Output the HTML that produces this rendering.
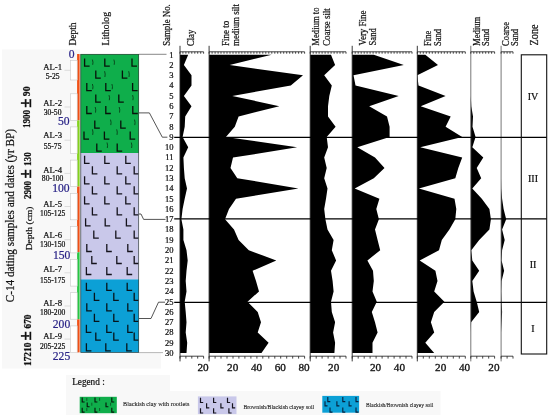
<!DOCTYPE html>
<html lang="en"><head><meta charset="utf-8"><title>Grain size log</title>
<style>html,body{margin:0;padding:0;background:#fff}svg{display:block}text{font-family:"Liberation Serif","Times New Roman",serif;fill:#111;stroke:#111;stroke-width:0.22px}</style>
</head><body>
<svg width="550" height="417" viewBox="0 0 550 417">
<rect width="550" height="417" fill="#fff"/>
<path d="M2 49.6H80V353H161V368.5H2Z" fill="#f8f8f8"/>
<path d="M66 375H170V391H440.5V415H66Z" fill="#f8f8f8"/>
<rect x="80.5" y="54" width="58.5" height="99" fill="#0fae4b"/>
<rect x="80.5" y="153" width="58.5" height="126.4" fill="#c9c8ea"/>
<rect x="80.5" y="279.4" width="58.5" height="73.2" fill="#0ca0d6"/>
<rect x="80.8" y="54.3" width="57.9" height="298.2" fill="none" stroke="#39443f" stroke-width="0.7"/>
<rect x="77.1" y="54" width="2.5" height="66.3" fill="#f05016"/>
<rect x="77.1" y="120.3" width="2.5" height="66.2" fill="#84d21e"/>
<rect x="77.1" y="186.5" width="2.5" height="65.7" fill="#f05016"/>
<rect x="77.1" y="252.2" width="2.5" height="67.1" fill="#26c744"/>
<rect x="77.1" y="319.3" width="2.5" height="33.1" fill="#f05016"/>
<path d="M84.6 58.6v7.6h5.0M104.8 58.6v7.6h5.0M132.0 58.6v7.6h5.0M95.8 70.6v7.6h5.0M122.4 70.6v7.6h5.0M86.8 83.1v7.6h5.0M105.8 83.1v7.6h5.0M132.6 83.1v7.6h5.0M95.8 94.6v7.6h5.0M118.8 94.6v7.6h5.0M86.8 105.9v7.6h5.0M105.8 105.9v7.6h5.0M132.8 105.9v7.6h5.0M94.8 120.6v7.6h5.0M120.8 120.6v7.6h5.0M84.0 131.6v7.6h5.0M104.4 131.6v7.6h5.0M130.2 131.6v7.6h5.0M96.8 143.6v7.6h5.0M117.2 143.6v7.6h5.0" fill="none" stroke="#07130a" stroke-width="1.3"/>
<path d="M92.4 59.6q1 2.6 0.3 5.2M113.9 59.6q1 2.6 0.3 5.2M104.6 71.2q1 2.9 0.3 5.8M128.7 71.2q1 2.9 0.3 5.8M92.4 84.0q1 2.6 0.3 5.3M111.9 84.0q1 2.6 0.3 5.3M109.0 95.1q1 2.6 0.3 5.1M132.6 95.1q1 2.6 0.3 5.1M95.2 107.0q1 2.8 0.3 5.6M119.2 107.0q1 2.8 0.3 5.6M110.5 119.6q1 2.8 0.3 5.5M134.5 119.6q1 2.8 0.3 5.5M92.4 129.3q1 2.8 0.3 5.6M116.7 129.3q1 2.8 0.3 5.6M107.0 142.5q1 2.8 0.3 5.5M131.3 142.5q1 2.8 0.3 5.5" fill="none" stroke="#083f19" stroke-width="0.9"/>
<path d="M84.6 155.7v7.6h5.0M104.8 155.7v7.6h5.0M125.8 155.7v7.6h5.0M92.4 166.2v7.6h5.0M117.2 166.2v7.6h5.0M134.2 166.2v7.6h4.1M84.6 176.2v7.6h5.0M104.8 176.2v7.6h5.0M125.8 176.2v7.6h5.0M92.4 186.2v7.6h5.0M117.2 186.2v7.6h5.0M134.2 186.2v7.6h4.1M84.6 196.2v7.6h5.0M104.8 196.2v7.6h5.0M125.8 196.2v7.6h5.0M92.4 207.2v7.6h5.0M117.2 207.2v7.6h5.0M134.2 207.2v7.6h4.1M85.6 218.2v7.6h5.0M105.2 218.2v7.6h5.0M126.4 218.2v7.6h5.0M93.8 230.5v7.6h5.0M115.8 230.5v7.6h5.0M134.2 230.5v7.6h4.1M86.8 243.9v7.6h5.0M106.8 243.9v7.6h5.0M127.8 243.9v7.6h5.0M91.8 255.9v7.6h5.0M116.8 255.9v7.6h5.0M134.2 255.9v7.6h4.1M86.4 266.9v7.6h5.0M106.8 266.9v7.6h5.0M127.2 266.9v7.6h5.0" fill="none" stroke="#15131c" stroke-width="1.3"/>
<path d="M86.4 282.7v7.6h5.0M106.8 282.7v7.6h5.0M127.2 282.7v7.6h5.0M94.4 292.7v7.6h5.0M113.8 292.7v7.6h5.0M134.2 292.7v7.6h4.1M86.8 303.3v7.6h5.0M106.8 303.3v7.6h5.0M127.8 303.3v7.6h5.0M94.4 313.7v7.6h5.0M113.8 313.7v7.6h5.0M134.2 313.7v7.6h4.1M86.4 324.7v7.6h5.0M106.8 324.7v7.6h5.0M127.8 324.7v7.6h5.0M95.8 332.5v7.6h5.0M113.8 332.5v7.6h5.0M134.2 332.5v7.6h4.1M86.4 343.3v7.6h5.0M105.8 343.3v7.6h5.0M126.8 343.3v7.6h5.0" fill="none" stroke="#06141c" stroke-width="1.3"/>
<rect x="70.6" y="60.6" width="6.6" height="19.4" fill="#fff" stroke="#c9c9c9" stroke-width="0.6"/>
<path d="M64.5 70.3H70.6" stroke="#c9c9c9" stroke-width="0.6"/>
<rect x="70.6" y="93.8" width="6.6" height="26.5" fill="#fff" stroke="#c9c9c9" stroke-width="0.6"/>
<path d="M64.5 107.0H70.6" stroke="#c9c9c9" stroke-width="0.6"/>
<rect x="70.6" y="126.9" width="6.6" height="26.5" fill="#fff" stroke="#c9c9c9" stroke-width="0.6"/>
<path d="M64.5 140.2H70.6" stroke="#c9c9c9" stroke-width="0.6"/>
<rect x="70.6" y="160.1" width="6.6" height="26.5" fill="#fff" stroke="#c9c9c9" stroke-width="0.6"/>
<path d="M64.5 173.4H70.6" stroke="#c9c9c9" stroke-width="0.6"/>
<rect x="70.6" y="193.3" width="6.6" height="26.5" fill="#fff" stroke="#c9c9c9" stroke-width="0.6"/>
<path d="M64.5 206.5H70.6" stroke="#c9c9c9" stroke-width="0.6"/>
<rect x="70.6" y="226.4" width="6.6" height="26.5" fill="#fff" stroke="#c9c9c9" stroke-width="0.6"/>
<path d="M64.5 239.7H70.6" stroke="#c9c9c9" stroke-width="0.6"/>
<rect x="70.6" y="259.6" width="6.6" height="26.5" fill="#fff" stroke="#c9c9c9" stroke-width="0.6"/>
<path d="M64.5 272.8H70.6" stroke="#c9c9c9" stroke-width="0.6"/>
<rect x="70.6" y="292.7" width="6.6" height="26.5" fill="#fff" stroke="#c9c9c9" stroke-width="0.6"/>
<path d="M64.5 306.0H70.6" stroke="#c9c9c9" stroke-width="0.6"/>
<rect x="70.6" y="325.9" width="6.6" height="26.5" fill="#fff" stroke="#c9c9c9" stroke-width="0.6"/>
<path d="M64.5 339.1H70.6" stroke="#c9c9c9" stroke-width="0.6"/>
<text x="52.6" y="70.2" font-size="8.7" text-anchor="middle">AL-1</text>
<text x="52.6" y="79.4" font-size="7.6" text-anchor="middle">5-25</text>
<text x="52.6" y="105.7" font-size="8.7" text-anchor="middle">AL-2</text>
<text x="52.6" y="114.9" font-size="7.6" text-anchor="middle">30-50</text>
<text x="52.6" y="138.4" font-size="8.7" text-anchor="middle">AL-3</text>
<text x="52.6" y="149.2" font-size="7.6" text-anchor="middle">55-75</text>
<text x="52.6" y="172.6" font-size="8.7" text-anchor="middle">AL-4</text>
<text x="52.6" y="181.0" font-size="7.6" text-anchor="middle">80-100</text>
<text x="52.6" y="207.0" font-size="8.7" text-anchor="middle">AL-5</text>
<text x="52.6" y="215.6" font-size="7.6" text-anchor="middle">105-125</text>
<text x="52.6" y="238.0" font-size="8.7" text-anchor="middle">AL-6</text>
<text x="52.6" y="246.9" font-size="7.6" text-anchor="middle">130-150</text>
<text x="52.6" y="271.7" font-size="8.7" text-anchor="middle">AL-7</text>
<text x="52.6" y="282.6" font-size="7.6" text-anchor="middle">155-175</text>
<text x="52.6" y="305.5" font-size="8.7" text-anchor="middle">AL-8</text>
<text x="52.6" y="315.1" font-size="7.6" text-anchor="middle">180-200</text>
<text x="52.6" y="338.5" font-size="8.7" text-anchor="middle">AL-9</text>
<text x="52.6" y="348.6" font-size="7.6" text-anchor="middle">205-225</text>
<text x="74.6" y="58.3" font-size="11.6" text-anchor="end" style="fill:#2a2487;stroke:#2a2487">0</text>
<text x="69.6" y="125.0" font-size="11.6" text-anchor="end" style="fill:#2a2487;stroke:#2a2487">50</text>
<text x="69.6" y="191.8" font-size="11.6" text-anchor="end" style="fill:#2a2487;stroke:#2a2487">100</text>
<text x="70.4" y="258.6" font-size="11.6" text-anchor="end" style="fill:#2a2487;stroke:#2a2487">150</text>
<text x="70.2" y="327.8" font-size="11.6" text-anchor="end" style="fill:#2a2487;stroke:#2a2487">200</text>
<text x="70.2" y="360.0" font-size="11.6" text-anchor="end" style="fill:#2a2487;stroke:#2a2487">225</text>
<text transform="translate(14 302.3) rotate(-90)" font-size="11.9" font-weight="normal" textLength="173.2" lengthAdjust="spacingAndGlyphs">C-14 dating samples and dates (yr BP)</text>
<text transform="translate(32.2 250.3) rotate(-90)" font-size="9.1" font-weight="normal" textLength="43.8" lengthAdjust="spacingAndGlyphs">Depth (cm)</text>
<text transform="translate(30.3 128.0) rotate(-90)" font-size="9.9" font-weight="bold" textLength="18.0" lengthAdjust="spacingAndGlyphs">1900</text>
<text transform="translate(31.1 107.7) rotate(-90)" font-size="17" font-weight="bold" style="stroke-width:0.45px">±</text>
<text transform="translate(30.3 96.2) rotate(-90)" font-size="9.9" font-weight="bold" textLength="9.8" lengthAdjust="spacingAndGlyphs">90</text>
<text transform="translate(30.5 199.1) rotate(-90)" font-size="9.9" font-weight="bold" textLength="18.3" lengthAdjust="spacingAndGlyphs">2900</text>
<text transform="translate(31.1 178.4) rotate(-90)" font-size="17" font-weight="bold" style="stroke-width:0.45px">±</text>
<text transform="translate(30.5 166.0) rotate(-90)" font-size="9.9" font-weight="bold" textLength="13.8" lengthAdjust="spacingAndGlyphs">130</text>
<text transform="translate(30.5 366.0) rotate(-90)" font-size="9.9" font-weight="bold" textLength="23.4" lengthAdjust="spacingAndGlyphs">17210</text>
<text transform="translate(31.1 340.5) rotate(-90)" font-size="17" font-weight="bold" style="stroke-width:0.45px">±</text>
<text transform="translate(30.5 328.5) rotate(-90)" font-size="9.9" font-weight="bold" textLength="13.9" lengthAdjust="spacingAndGlyphs">670</text>
<text transform="translate(75.8 45.5) rotate(-90)" font-size="9.5" font-weight="normal" textLength="23" lengthAdjust="spacingAndGlyphs">Depth</text>
<text transform="translate(109 45.5) rotate(-90)" font-size="9.5" font-weight="normal" textLength="33.6" lengthAdjust="spacingAndGlyphs">Litholog</text>
<text transform="translate(170 45.8) rotate(-90)" font-size="9.5" font-weight="normal" textLength="41.6" lengthAdjust="spacingAndGlyphs">Sample No.</text>
<text transform="translate(194 46) rotate(-90)" font-size="9.5" font-weight="normal" textLength="16.2" lengthAdjust="spacingAndGlyphs">Clay</text>
<text transform="translate(229 46) rotate(-90)" font-size="9.5" font-weight="normal" textLength="25.2" lengthAdjust="spacingAndGlyphs">Fine to</text>
<text transform="translate(238.8 46) rotate(-90)" font-size="9.5" font-weight="normal" textLength="42" lengthAdjust="spacingAndGlyphs">medium silt</text>
<text transform="translate(319.3 45.8) rotate(-90)" font-size="9.5" font-weight="normal" textLength="38.4" lengthAdjust="spacingAndGlyphs">Medium to</text>
<text transform="translate(329.5 45.8) rotate(-90)" font-size="9.5" font-weight="normal" textLength="37.6" lengthAdjust="spacingAndGlyphs">Coarse silt</text>
<text transform="translate(365.5 45.5) rotate(-90)" font-size="9.5" font-weight="normal" textLength="34.9" lengthAdjust="spacingAndGlyphs">Very Fine</text>
<text transform="translate(375.6 45.5) rotate(-90)" font-size="9.5" font-weight="normal" textLength="17.3" lengthAdjust="spacingAndGlyphs">Sand</text>
<text transform="translate(431 45.9) rotate(-90)" font-size="9.5" font-weight="normal" textLength="15.2" lengthAdjust="spacingAndGlyphs">Fine</text>
<text transform="translate(440.8 45.9) rotate(-90)" font-size="9.5" font-weight="normal" textLength="16.9" lengthAdjust="spacingAndGlyphs">Sand</text>
<text transform="translate(480 45.9) rotate(-90)" font-size="9.5" font-weight="normal" textLength="29.2" lengthAdjust="spacingAndGlyphs">Medium</text>
<text transform="translate(489.4 45.9) rotate(-90)" font-size="9.5" font-weight="normal" textLength="16.9" lengthAdjust="spacingAndGlyphs">Sand</text>
<text transform="translate(508.8 45.9) rotate(-90)" font-size="9.5" font-weight="normal" textLength="23.9" lengthAdjust="spacingAndGlyphs">Coarse</text>
<text transform="translate(517.6 45.9) rotate(-90)" font-size="9.5" font-weight="normal" textLength="16.9" lengthAdjust="spacingAndGlyphs">Sand</text>
<text transform="translate(537.7 45.4) rotate(-90)" font-size="11.6" font-weight="normal" textLength="20.9" lengthAdjust="spacingAndGlyphs">Zone</text>
<text x="173.5" y="57.5" font-size="8.5" text-anchor="end">1</text>
<text x="173.5" y="67.8" font-size="8.5" text-anchor="end">2</text>
<text x="173.5" y="78.1" font-size="8.5" text-anchor="end">3</text>
<text x="173.5" y="88.4" font-size="8.5" text-anchor="end">4</text>
<text x="173.5" y="98.7" font-size="8.5" text-anchor="end">5</text>
<text x="173.5" y="109.0" font-size="8.5" text-anchor="end">6</text>
<text x="173.5" y="119.2" font-size="8.5" text-anchor="end">7</text>
<text x="173.5" y="129.5" font-size="8.5" text-anchor="end">8</text>
<text x="173.5" y="139.8" font-size="8.5" text-anchor="end">9</text>
<text x="173.5" y="150.1" font-size="8.5" text-anchor="end">10</text>
<text x="173.5" y="160.4" font-size="8.5" text-anchor="end">11</text>
<text x="173.5" y="170.7" font-size="8.5" text-anchor="end">12</text>
<text x="173.5" y="181.0" font-size="8.5" text-anchor="end">13</text>
<text x="173.5" y="191.3" font-size="8.5" text-anchor="end">14</text>
<text x="173.5" y="201.6" font-size="8.5" text-anchor="end">15</text>
<text x="173.5" y="211.9" font-size="8.5" text-anchor="end">16</text>
<text x="173.5" y="222.1" font-size="8.5" text-anchor="end">17</text>
<text x="173.5" y="232.4" font-size="8.5" text-anchor="end">18</text>
<text x="173.5" y="242.7" font-size="8.5" text-anchor="end">19</text>
<text x="173.5" y="253.0" font-size="8.5" text-anchor="end">20</text>
<text x="173.5" y="263.3" font-size="8.5" text-anchor="end">21</text>
<text x="173.5" y="273.6" font-size="8.5" text-anchor="end">22</text>
<text x="173.5" y="283.9" font-size="8.5" text-anchor="end">23</text>
<text x="173.5" y="294.2" font-size="8.5" text-anchor="end">24</text>
<text x="173.5" y="304.5" font-size="8.5" text-anchor="end">25</text>
<text x="173.5" y="314.8" font-size="8.5" text-anchor="end">26</text>
<text x="173.5" y="325.0" font-size="8.5" text-anchor="end">27</text>
<text x="173.5" y="335.3" font-size="8.5" text-anchor="end">28</text>
<text x="173.5" y="345.6" font-size="8.5" text-anchor="end">29</text>
<text x="173.5" y="355.9" font-size="8.5" text-anchor="end">30</text>
<path d="M139 54.3H166.5" stroke="#555" stroke-width="0.7" fill="none"/>
<path d="M139 112.9H149.4L162.3 137.2H167.4" stroke="#2a2a2a" stroke-width="0.8" fill="none"/>
<path d="M139 214H141L143.6 219.4H165.5" stroke="#2a2a2a" stroke-width="0.8" fill="none"/>
<path d="M139 318.5H151L158.5 302.2H165" stroke="#2a2a2a" stroke-width="0.8" fill="none"/>
<path d="M139 352.6H163" stroke="#999" stroke-width="0.7" fill="none"/>
<polygon points="180.0,54.7 188.2,54.7 183.9,65.0 191.5,75.3 191.5,85.6 183.9,95.9 191.5,106.2 185.2,116.4 184.7,126.7 182.6,137.0 188.2,147.3 183.4,157.6 183.9,167.9 184.7,178.2 187.0,188.5 184.7,198.8 182.6,209.1 181.4,219.3 183.4,229.6 183.4,239.9 186.5,250.2 187.7,260.5 186.5,270.8 185.7,281.1 186.5,291.4 184.7,301.7 185.7,311.9 186.5,322.2 185.7,332.5 187.2,342.8 186.5,353.1 180.0,353.1" fill="#000"/>
<path d="M180.0 45.8V361.4" stroke="#222" stroke-width="0.9" fill="none"/>
<path d="M180.0 51.8H203.6M180.0 356.2H203.6M180.0 356.2v2.4M185.9 356.2v2.4M191.8 356.2v2.4M197.7 356.2v2.4M203.6 356.2v2.4M180.0 51.8v1.9M182.9 51.8v1.9M185.9 51.8v1.9M188.8 51.8v1.9M191.8 51.8v1.9M194.8 51.8v1.9M197.7 51.8v1.9M200.7 51.8v1.9M203.6 51.8v1.9" stroke="#222" stroke-width="0.85" fill="none"/>
<text x="203.1" y="371" font-size="11.2" text-anchor="middle" style="stroke-width:0.32px">20</text>
<polygon points="209.1,54.7 271.7,54.7 229.7,65.0 303.0,75.3 290.8,85.6 232.3,95.9 279.3,106.2 238.6,116.4 234.8,126.7 225.9,137.0 297.1,147.3 233.0,157.6 230.5,167.9 237.3,178.2 298.4,188.5 236.0,198.8 229.0,209.1 225.0,219.3 234.0,229.6 238.6,239.9 248.8,250.2 276.3,260.5 252.6,270.8 256.0,281.1 259.0,291.4 247.5,301.7 257.7,311.9 261.0,322.2 257.7,332.5 268.6,342.8 261.5,353.1 209.1,353.1" fill="#000"/>
<path d="M209.1 45.8V361.4" stroke="#222" stroke-width="0.9" fill="none"/>
<path d="M209.1 51.8H304.6M209.1 356.2H304.6M209.1 356.2v2.4M215.1 356.2v2.4M221.0 356.2v2.4M227.0 356.2v2.4M233.0 356.2v2.4M238.9 356.2v2.4M244.9 356.2v2.4M250.9 356.2v2.4M256.9 356.2v2.4M262.8 356.2v2.4M268.8 356.2v2.4M274.8 356.2v2.4M280.7 356.2v2.4M286.7 356.2v2.4M292.7 356.2v2.4M298.6 356.2v2.4M304.6 356.2v2.4M209.1 51.8v1.9M212.1 51.8v1.9M215.1 51.8v1.9M218.1 51.8v1.9M221.0 51.8v1.9M224.0 51.8v1.9M227.0 51.8v1.9M230.0 51.8v1.9M233.0 51.8v1.9M236.0 51.8v1.9M238.9 51.8v1.9M241.9 51.8v1.9M244.9 51.8v1.9M247.9 51.8v1.9M250.9 51.8v1.9M253.9 51.8v1.9M256.9 51.8v1.9M259.8 51.8v1.9M262.8 51.8v1.9M265.8 51.8v1.9M268.8 51.8v1.9M271.8 51.8v1.9M274.8 51.8v1.9M277.7 51.8v1.9M280.7 51.8v1.9M283.7 51.8v1.9M286.7 51.8v1.9M289.7 51.8v1.9M292.7 51.8v1.9M295.6 51.8v1.9M298.6 51.8v1.9M301.6 51.8v1.9M304.6 51.8v1.9" stroke="#222" stroke-width="0.85" fill="none"/>
<text x="232.7" y="371" font-size="11.2" text-anchor="middle" style="stroke-width:0.32px">20</text>
<text x="256.5" y="371" font-size="11.2" text-anchor="middle" style="stroke-width:0.32px">40</text>
<text x="280.3" y="371" font-size="11.2" text-anchor="middle" style="stroke-width:0.32px">60</text>
<text x="304.1" y="371" font-size="11.2" text-anchor="middle" style="stroke-width:0.32px">80</text>
<polygon points="310.2,54.7 331.0,54.7 335.1,65.0 324.2,75.3 331.8,85.6 329.3,95.9 328.0,106.2 328.0,116.4 335.6,126.7 326.7,137.0 328.0,147.3 324.2,157.6 326.7,167.9 324.2,178.2 327.5,188.5 326.0,198.8 324.2,209.1 325.4,219.3 327.5,229.6 333.6,239.9 331.8,250.2 336.1,260.5 331.0,270.8 332.6,281.1 333.6,291.4 331.0,301.7 331.8,311.9 335.1,322.2 333.1,332.5 335.1,342.8 334.4,353.1 310.2,353.1" fill="#000"/>
<path d="M310.2 45.8V361.4" stroke="#222" stroke-width="0.9" fill="none"/>
<path d="M310.2 51.8H346.0M310.2 356.2H346.0M310.2 356.2v2.4M316.2 356.2v2.4M322.1 356.2v2.4M328.1 356.2v2.4M334.1 356.2v2.4M340.0 356.2v2.4M346.0 356.2v2.4M310.2 51.8v1.9M313.2 51.8v1.9M316.2 51.8v1.9M319.1 51.8v1.9M322.1 51.8v1.9M325.1 51.8v1.9M328.1 51.8v1.9M331.1 51.8v1.9M334.1 51.8v1.9M337.1 51.8v1.9M340.0 51.8v1.9M343.0 51.8v1.9M346.0 51.8v1.9" stroke="#222" stroke-width="0.85" fill="none"/>
<text x="333.7" y="371" font-size="11.2" text-anchor="middle" style="stroke-width:0.32px">20</text>
<polygon points="352.2,54.7 373.8,54.7 403.8,65.0 353.5,75.3 355.5,85.6 398.7,95.9 369.2,106.2 387.0,116.4 389.6,126.7 389.6,137.0 357.3,147.3 375.0,157.6 384.5,167.9 373.8,178.2 354.7,188.5 379.4,198.8 376.3,209.1 378.9,219.3 375.0,229.6 377.6,239.9 380.2,250.2 367.4,260.5 373.0,270.8 373.8,281.1 372.5,291.4 376.8,301.7 371.8,311.9 375.0,322.2 377.6,332.5 372.5,342.8 372.5,353.1 352.2,353.1" fill="#000"/>
<path d="M352.2 45.8V361.4" stroke="#222" stroke-width="0.9" fill="none"/>
<path d="M352.2 51.8H412.0M352.2 356.2H412.0M352.2 356.2v2.4M358.2 356.2v2.4M364.2 356.2v2.4M370.1 356.2v2.4M376.1 356.2v2.4M382.1 356.2v2.4M388.1 356.2v2.4M394.1 356.2v2.4M400.0 356.2v2.4M406.0 356.2v2.4M412.0 356.2v2.4M352.2 51.8v1.9M355.2 51.8v1.9M358.2 51.8v1.9M361.2 51.8v1.9M364.2 51.8v1.9M367.1 51.8v1.9M370.1 51.8v1.9M373.1 51.8v1.9M376.1 51.8v1.9M379.1 51.8v1.9M382.1 51.8v1.9M385.1 51.8v1.9M388.1 51.8v1.9M391.1 51.8v1.9M394.1 51.8v1.9M397.1 51.8v1.9M400.0 51.8v1.9M403.0 51.8v1.9M406.0 51.8v1.9M409.0 51.8v1.9M412.0 51.8v1.9" stroke="#222" stroke-width="0.85" fill="none"/>
<text x="375.5" y="371" font-size="11.2" text-anchor="middle" style="stroke-width:0.32px">20</text>
<text x="399.4" y="371" font-size="11.2" text-anchor="middle" style="stroke-width:0.32px">40</text>
<polygon points="417.3,54.7 425.3,54.7 438.0,65.0 417.3,75.3 418.5,85.6 445.6,95.9 420.7,106.2 450.7,116.4 445.6,126.7 462.2,137.0 420.2,147.3 462.2,157.6 458.3,167.9 455.3,178.2 418.9,188.5 454.5,198.8 456.3,209.1 455.3,219.3 449.4,229.6 441.8,239.9 439.0,250.2 419.7,260.5 435.4,270.8 437.5,281.1 434.2,291.4 444.4,301.7 434.2,311.9 430.9,322.2 434.2,332.5 425.3,342.8 434.2,353.1 417.3,353.1" fill="#000"/>
<path d="M417.3 45.8V361.4" stroke="#222" stroke-width="0.9" fill="none"/>
<path d="M417.3 51.8H465.3M417.3 356.2H465.3M417.3 356.2v2.4M423.3 356.2v2.4M429.3 356.2v2.4M435.3 356.2v2.4M441.3 356.2v2.4M447.3 356.2v2.4M453.3 356.2v2.4M459.3 356.2v2.4M465.3 356.2v2.4M417.3 51.8v1.9M420.3 51.8v1.9M423.3 51.8v1.9M426.3 51.8v1.9M429.3 51.8v1.9M432.3 51.8v1.9M435.3 51.8v1.9M438.3 51.8v1.9M441.3 51.8v1.9M444.3 51.8v1.9M447.3 51.8v1.9M450.3 51.8v1.9M453.3 51.8v1.9M456.3 51.8v1.9M459.3 51.8v1.9M462.3 51.8v1.9M465.3 51.8v1.9" stroke="#222" stroke-width="0.85" fill="none"/>
<text x="440.7" y="371" font-size="11.2" text-anchor="middle" style="stroke-width:0.32px">20</text>
<text x="464.5" y="371" font-size="11.2" text-anchor="middle" style="stroke-width:0.32px">40</text>
<polygon points="470.8,54.7 470.8,54.7 470.8,65.0 470.8,75.3 470.8,85.6 470.8,95.9 471.3,106.2 473.0,116.4 472.5,126.7 475.6,137.0 472.3,147.3 483.3,157.6 476.7,167.9 481.2,178.2 472.3,188.5 481.8,198.8 489.4,209.1 490.9,219.3 489.4,229.6 479.2,239.9 471.3,250.2 472.3,260.5 479.2,270.8 472.3,281.1 473.6,291.4 476.7,301.7 479.2,311.9 471.1,322.2 470.8,332.5 470.8,342.8 470.8,353.1 470.8,353.1" fill="#000"/>
<path d="M470.8 45.8V361.4" stroke="#555" stroke-width="0.8" fill="none"/>
<path d="M470.8 51.8H494.6M470.8 356.2H494.6M470.8 356.2v2.4M476.8 356.2v2.4M482.7 356.2v2.4M488.7 356.2v2.4M494.6 356.2v2.4M470.8 51.8v1.9M473.8 51.8v1.9M476.8 51.8v1.9M479.7 51.8v1.9M482.7 51.8v1.9M485.7 51.8v1.9M488.7 51.8v1.9M491.6 51.8v1.9M494.6 51.8v1.9" stroke="#222" stroke-width="0.85" fill="none"/>
<text x="493.9" y="371" font-size="11.2" text-anchor="middle" style="stroke-width:0.32px">20</text>
<polygon points="501.1,54.7 501.1,54.7 501.1,65.0 501.1,75.3 501.1,85.6 501.1,95.9 501.1,106.2 501.1,116.4 501.1,126.7 501.1,137.0 501.1,147.3 501.1,157.6 501.1,167.9 501.1,178.2 501.3,188.5 502.1,198.8 503.6,209.1 506.2,219.3 502.1,229.6 504.7,239.9 502.1,250.2 501.6,260.5 504.1,270.8 501.6,281.1 501.3,291.4 501.6,301.7 502.1,311.9 501.6,322.2 501.1,332.5 501.1,342.8 501.1,353.1 501.1,353.1" fill="#000"/>
<path d="M501.1 45.8V361.4" stroke="#555" stroke-width="0.8" fill="none"/>
<path d="M501.1 51.8H513.0M501.1 356.2H513.0M501.1 356.2v2.4M507.1 356.2v2.4M513.0 356.2v2.4M501.1 51.8v1.9M504.1 51.8v1.9M507.1 51.8v1.9M510.0 51.8v1.9M513.0 51.8v1.9" stroke="#222" stroke-width="0.85" fill="none"/>
<path d="M174.2 137.4H546.8" stroke="#000" stroke-width="1.3"/>
<path d="M174.2 218.9H546.8" stroke="#000" stroke-width="1.3"/>
<path d="M174.2 302.3H546.8" stroke="#000" stroke-width="1.3"/>
<rect x="521.3" y="54.8" width="25.4" height="299.2" fill="none" stroke="#111" stroke-width="1.1"/>
<text x="533" y="99.9" font-size="10" text-anchor="middle">IV</text>
<text x="533" y="182.4" font-size="10" text-anchor="middle">III</text>
<text x="533" y="267.9" font-size="10" text-anchor="middle">II</text>
<text x="533" y="332.4" font-size="10" text-anchor="middle">I</text>
<text x="72.2" y="384.6" font-size="10" textLength="32.5" lengthAdjust="spacingAndGlyphs">Legend :</text>
<rect x="79.7" y="396.8" width="37.1" height="16.4" fill="#0fae4b"/>
<rect x="197.9" y="396.4" width="38.6" height="17.7" fill="#c9c8ea"/>
<rect x="322.3" y="395.9" width="36.8" height="16.8" fill="#0ca0d6"/>
<path d="M82.2 397.6v4.4h2.4M95.0 397.6v4.4h2.4M111.8 397.6v4.4h2.4M87.2 402.4v4.4h2.4M106.0 402.4v4.4h2.4M82.2 407.7v4.4h2.4M95.0 407.7v4.4h2.4M111.8 407.7v4.4h2.4" fill="none" stroke="#07130a" stroke-width="1.1"/>
<path d="M86.8 397.9v3M99.6 397.9v3M91.8 402.7v3M110.6 402.7v3M86.8 408.0v3M99.6 408.0v3" fill="none" stroke="#0a4d1f" stroke-width="0.8"/>
<path d="M200.5 397.8v4.7h2.7M213.6 397.8v4.7h2.7M227.5 397.8v4.7h2.7M206.6 403.2v4.7h2.7M220.9 403.2v4.7h2.7M232.5 403.2v4.7h2.7M200.5 408.3v4.7h2.7M213.6 408.3v4.7h2.7M228.9 408.3v4.7h2.7" fill="none" stroke="#15131c" stroke-width="1.2"/>
<path d="M327.8 396.9v4.7h2.5M342.8 396.9v4.7h2.5M356.0 396.9v4.7h2.5M325.0 401.2v4.7h2.5M336.9 401.2v4.7h2.5M349.1 401.2v4.7h2.5M330.0 407.4v4.7h2.5M342.8 407.4v4.7h2.5M356.0 407.4v4.7h2.5" fill="none" stroke="#06203c" stroke-width="1.1"/>
<text x="123.1" y="406.4" font-size="7.1" textLength="66.2" lengthAdjust="spacingAndGlyphs" style="stroke-width:0.1px;fill:#1a1a1a">Blackish clay with rootlets</text>
<text x="243.4" y="409" font-size="7.1" textLength="70.8" lengthAdjust="spacingAndGlyphs" style="stroke-width:0.1px;fill:#1a1a1a">Brownish/Blackish clayey soil</text>
<text x="366" y="407.2" font-size="7.1" textLength="67.4" lengthAdjust="spacingAndGlyphs" style="stroke-width:0.1px;fill:#1a1a1a">Blackish/Brownish clayey soil</text>
</svg></body></html>
